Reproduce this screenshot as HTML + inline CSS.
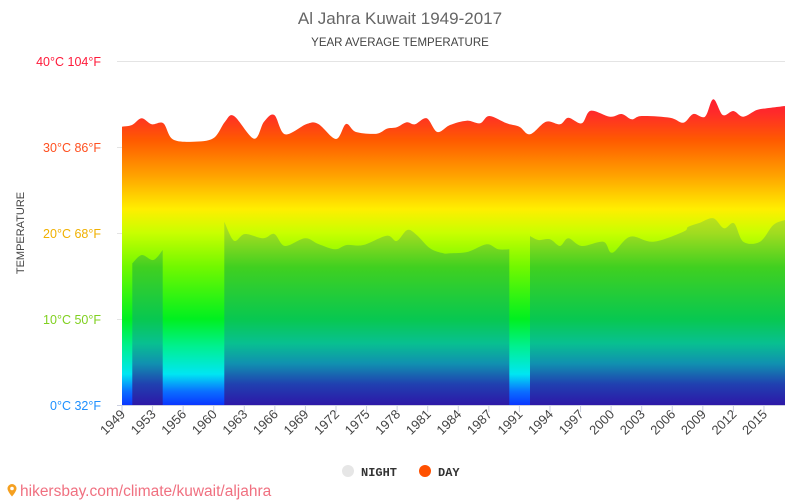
<!DOCTYPE html>
<html><head><meta charset="utf-8"><style>
body{margin:0;background:#fff;}
svg{display:block;font-family:"Liberation Sans",sans-serif;}
</style></head><body>
<svg id="s" width="800" height="500" viewBox="0 0 800 500">
<defs>
<linearGradient id="gd" gradientUnits="userSpaceOnUse" x1="0" y1="405" x2="0" y2="61">
<stop offset="0" stop-color="#0a36ff"/>
<stop offset="0.04" stop-color="#0a70ff"/>
<stop offset="0.09" stop-color="#00e6f2"/>
<stop offset="0.17" stop-color="#00f090"/>
<stop offset="0.25" stop-color="#00f020"/>
<stop offset="0.4" stop-color="#70f800"/>
<stop offset="0.5" stop-color="#c8ff00"/>
<stop offset="0.57" stop-color="#ffee00"/>
<stop offset="0.67" stop-color="#ffa000"/>
<stop offset="0.77" stop-color="#ff5a00"/>
<stop offset="0.85" stop-color="#ff2a2a"/>
<stop offset="1" stop-color="#ff0040"/>
</linearGradient>
<linearGradient id="gn" gradientUnits="userSpaceOnUse" x1="0" y1="405" x2="0" y2="61">
<stop offset="0" stop-color="#2d18a8"/>
<stop offset="0.06" stop-color="#2040b0"/>
<stop offset="0.12" stop-color="#1090b0"/>
<stop offset="0.18" stop-color="#08c090"/>
<stop offset="0.25" stop-color="#08c850"/>
<stop offset="0.4" stop-color="#40d020"/>
<stop offset="0.5" stop-color="#a0dc20"/>
<stop offset="0.58" stop-color="#d4e418"/>
</linearGradient>
</defs>
<text x="400" y="24" text-anchor="middle" font-size="17" fill="#666">Al Jahra Kuwait 1949-2017</text>
<text x="400" y="46" text-anchor="middle" font-size="11.5" fill="#444">YEAR AVERAGE TEMPERATURE</text>
<g stroke="#e4e4e4" stroke-width="1">
<line x1="117" y1="61.5" x2="785" y2="61.5"/>
<line x1="117" y1="147.5" x2="785" y2="147.5"/>
<line x1="117" y1="233.5" x2="785" y2="233.5"/>
<line x1="117" y1="319.5" x2="785" y2="319.5"/>
</g>
<g font-size="12.5" text-anchor="end">
<text x="101" y="66" fill="#ff1a3a">40°C 104°F</text>
<text x="101" y="152" fill="#ff5020">30°C 86°F</text>
<text x="101" y="238" fill="#f0b000">20°C 68°F</text>
<text x="101" y="324" fill="#80d020">10°C 50°F</text>
<text x="101" y="410" fill="#1e90ff">0°C 32°F</text>
</g>
<text transform="translate(24,233) rotate(-90)" text-anchor="middle" font-size="11" fill="#444">TEMPERATURE</text>
<path id="day" fill="url(#gd)"/>
<path id="n1" fill="url(#gn)"/>
<path id="n2" fill="url(#gn)"/>
<path id="n3" fill="url(#gn)"/>
<line x1="117" y1="405.5" x2="785" y2="405.5" stroke="#ccd0e0"/>
<g id="xt" font-size="13" fill="#444"></g>
<circle cx="348" cy="471" r="6" fill="#e6e6e6"/>
<text x="361" y="476" font-size="12" font-weight="bold" fill="#333" font-family="Liberation Mono,monospace">NIGHT</text>
<circle cx="425" cy="471" r="6" fill="#ff5000"/>
<text x="438" y="476" font-size="12" font-weight="bold" fill="#333" font-family="Liberation Mono,monospace">DAY</text>
<path d="M12 484a4.5 4.5 0 0 1 4.5 4.5c0 3-4.5 8-4.5 8s-4.5-5-4.5-8A4.5 4.5 0 0 1 12 484z" fill="#f5a020"/>
<circle cx="12" cy="488.5" r="1.8" fill="#fff"/>
<text x="20" y="496" font-size="15.5" fill="#f07080">hikersbay.com/climate/kuwait/aljahra</text>
</svg>
<script>
function smooth(p){var d="M"+p[0][0]+","+p[0][1];for(var i=0;i<p.length-1;i++){var p0=p[i-1]||p[i],p1=p[i],p2=p[i+1],p3=p[i+2]||p2;var c1x=p1[0]+(p2[0]-p0[0])/6,c1y=p1[1]+(p2[1]-p0[1])/6,c2x=p2[0]-(p3[0]-p1[0])/6,c2y=p2[1]-(p3[1]-p1[1])/6;d+="C"+c1x.toFixed(1)+","+c1y.toFixed(1)+" "+c2x.toFixed(1)+","+c2y.toFixed(1)+" "+p2[0]+","+p2[1];}return d;}
function area(p){return smooth(p)+"L"+p[p.length-1][0]+",405L"+p[0][0]+",405Z";}
var day=[[122,126.7],[132,125],[141.7,118.3],[151.7,124.3],[163.3,123.3],[172.7,139.3],[193.3,141.7],[213.3,138.3],[225,121.7],[234,116],[254,138.7],[264,121.7],[274.3,115],[285,134.3],[306.7,124],[318.3,124],[336,139],[346,124],[356,132],[376.7,133.7],[386.7,128.7],[396.7,127.3],[406.7,122.3],[415,124.3],[426.7,118.3],[437.3,132],[450,125],[466.7,120.7],[480,123.3],[489.3,116],[506.7,123.3],[519.3,126.7],[530,134.3],[546,121.7],[560,124.3],[568.3,117.7],[581.7,123.3],[590.7,110.7],[610,116.7],[621.7,114],[631.7,119.3],[641.7,116],[670,117.7],[683.3,122.7],[693.3,114],[705,116.7],[713.3,99.3],[722.7,115],[733.3,111],[743.3,116.7],[756.7,110],[766.7,108.3],[785,106]];
var n1=[[132.3,263.3],[141.7,255],[153.3,260],[162.7,250]];
var n2=[[224.3,221.7],[234,240.7],[245,234],[263.3,238.3],[274.3,234],[285,246],[305,238.3],[318.3,244],[335,249.3],[346.7,245],[363.3,245],[386.7,235.7],[396.7,241],[407.3,230],[416.7,235],[430,248.3],[443.3,253.3],[450,253.3],[468.3,251.7],[486.7,244.3],[498.3,249.3],[509.3,249.3]];
var n3=[[530,236],[538.3,240],[550,239.3],[560,246],[568.3,238.3],[581.7,246],[603.3,241.7],[612.3,252.7],[630,236.7],[653.3,241.7],[683.3,231.7],[688.3,226.7],[700,222.7],[713.3,218.3],[724,228.3],[734,223.3],[743.3,241.7],[760,241.7],[773.3,225],[785,220]];
document.getElementById("day").setAttribute("d",area(day));
document.getElementById("n1").setAttribute("d",area(n1));
document.getElementById("n2").setAttribute("d",area(n2));
document.getElementById("n3").setAttribute("d",area(n3));
var yrs=[1949,1953,1956,1960,1963,1966,1969,1972,1975,1978,1981,1984,1987,1991,1994,1997,2000,2003,2006,2009,2012,2015];
var g=document.getElementById("xt"),h="";
for(var k=0;k<yrs.length;k++){var x=122+k*30.57;h+='<line x1="'+x+'" y1="405" x2="'+x+'" y2="412" stroke="#ccd0e0"/>';h+='<text transform="translate('+(x+4)+',415) rotate(-45)" text-anchor="end">'+yrs[k]+'</text>';}
g.innerHTML=h;
</script>
</body></html>
